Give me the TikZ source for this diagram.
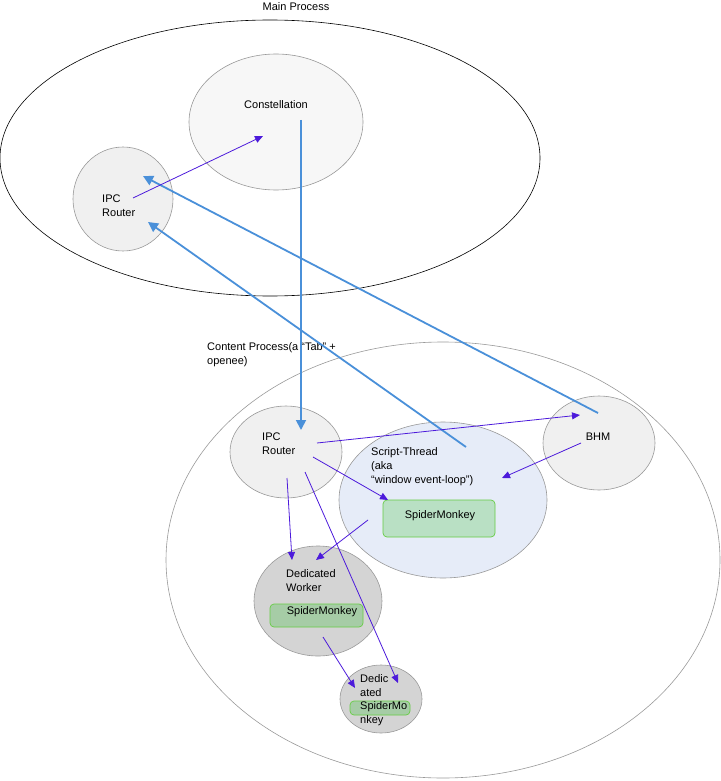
\documentclass[tikz,border=0pt]{standalone}
\usepackage{fontspec}
\setmainfont{Liberation Sans}
\usetikzlibrary{shapes.geometric,arrows.meta}
\definecolor{bl}{HTML}{4A90D9}
\definecolor{pu}{HTML}{4C1ADB}
\definecolor{stf}{HTML}{E6ECF8}
\definecolor{smf}{HTML}{B9E0C4}
\definecolor{smd}{HTML}{A6CCA6}
\definecolor{smb}{HTML}{66CC44}
\begin{document}
\begin{tikzpicture}[x=1pt,y=-1pt,
  ell/.style={draw=black!40,line width=0.6pt},
  lbl/.style={font=\fontsize{11}{14}\selectfont,align=left,inner sep=0},
  sm/.style={draw=smb,line width=0.7pt,rounded corners=4pt},
  big/.style={draw=black,line width=0.6pt},
  blue/.style={draw=bl,color=bl,line width=1.8pt,-{Triangle[length=10pt,width=10pt]}},
  pur/.style={draw=pu,color=pu,line width=0.8pt,-{Triangle[length=8pt,width=7pt]}}]
\useasboundingbox (0,0) rectangle (720,781);
\draw[big] (270,158) ellipse [x radius=270, y radius=138];
\node[lbl] (mp) at (296,7) {Main Process};
\draw[ell,fill=black!3] (276,122) ellipse [x radius=87, y radius=68];
\node[lbl] (con) at (276,105) {Constellation};
\draw[ell,fill=black!6] (123,199) ellipse [x radius=50, y radius=52];
\node[lbl,anchor=west] (ipc1) at (102,206) {IPC\\Router};
\draw[ell] (443,560) ellipse [x radius=277, y radius=218];
\node[lbl,anchor=west] (cp) at (207,355) {Content Process(a “Tab” +\\openee)};
\draw[ell,fill=black!6] (286,452) ellipse [x radius=56, y radius=46];
\node[lbl,anchor=west] (ipc2) at (262,444) {IPC\\Router};
\draw[ell,fill=stf] (443,500) ellipse [x radius=104, y radius=78];
\node[lbl,anchor=west] (st) at (371,467) {Script-Thread\\(aka\\“window event-loop”)};
\draw[sm,fill=smf] (383,500) rectangle (495,537);
\node[lbl] (sm1) at (440,516) {SpiderMonkey};
\draw[ell,fill=black!6] (599,443) ellipse [x radius=56, y radius=47];
\node[lbl] (bhm) at (598,437) {BHM};
\draw[ell,fill=black!17] (318,601) ellipse [x radius=64, y radius=55];
\node[lbl,anchor=west] (dw) at (286,581) {Dedicated\\Worker};
\draw[sm,fill=smd] (270,604) rectangle (363,627);
\node[lbl] (sm2) at (322,612) {SpiderMonkey};
\draw[ell,fill=black!17] (381,699) ellipse [x radius=41, y radius=34];
\node[lbl,anchor=west] (dw2) at (360,693) {Dedic\\ated\\Worker};
\draw[sm,fill=smd] (350,701) rectangle (410,715);
\node[lbl,anchor=west] (sm3) at (360,714) {SpiderMo\\nkey};
\coordinate (a1) at (301,120); \coordinate (a2) at (301,430);
\coordinate (b1) at (466,447); \coordinate (b2) at (148,222);
\coordinate (c1) at (598,413); \coordinate (c2) at (143,176);
\coordinate (d1) at (133,198); \coordinate (d2) at (263,136);
\coordinate (e1) at (317,443); \coordinate (e2) at (580,415);
\coordinate (f1) at (581,443); \coordinate (f2) at (502,478);
\coordinate (g1) at (313,457); \coordinate (g2) at (388,500);
\coordinate (h1) at (287,478); \coordinate (h2) at (292,560);
\coordinate (i1) at (305,472); \coordinate (i2) at (398,683);
\coordinate (j1) at (368,520); \coordinate (j2) at (316,560);
\coordinate (k1) at (323,637); \coordinate (k2) at (355,688);
\draw[blue] (a1) -- (a2);
\draw[blue] (b1) -- (b2);
\draw[blue] (c1) -- (c2);
\draw[pur] (d1) -- (d2);
\draw[pur] (e1) -- (e2);
\draw[pur] (f1) -- (f2);
\draw[pur] (g1) -- (g2);
\draw[pur] (h1) -- (h2);
\draw[pur] (i1) -- (i2);
\draw[pur] (j1) -- (j2);
\draw[pur] (k1) -- (k2);
\end{tikzpicture}
\end{document}
